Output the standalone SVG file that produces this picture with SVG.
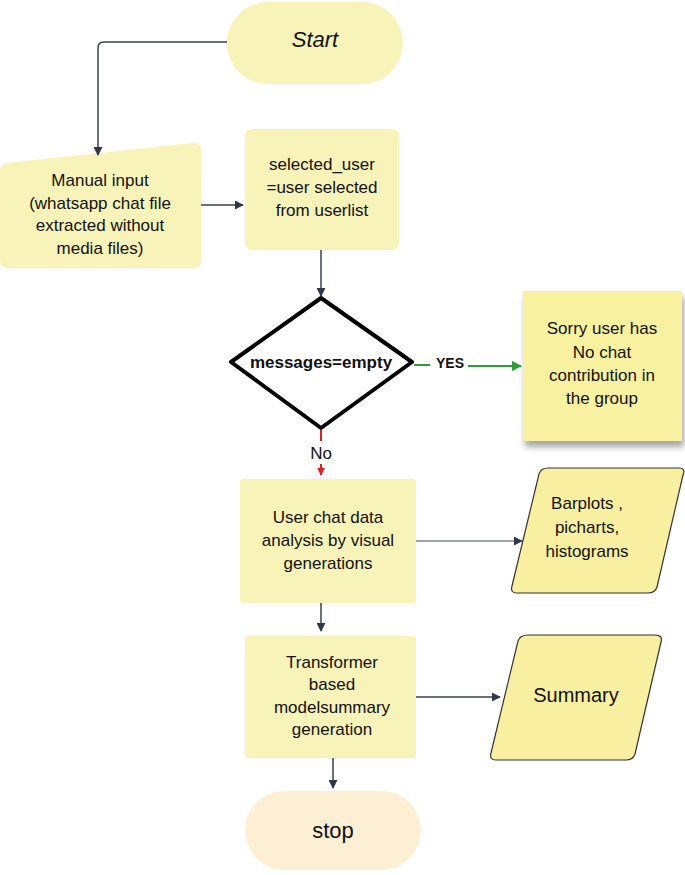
<svg xmlns="http://www.w3.org/2000/svg" width="685" height="875" viewBox="0 0 685 875">
<style>
text{font-family:"Liberation Sans",Arial,sans-serif;fill:#111;text-anchor:middle;font-size:17px}
.box{fill:#f8f3b8}
.c{fill:none;stroke:#3a4250;stroke-width:1.5}
</style>
<defs>
<marker id="a" viewBox="0 0 10 10" refX="9" refY="5" markerWidth="9" markerHeight="9" markerUnits="userSpaceOnUse" orient="auto"><path d="M0,0L10,5L0,10z" fill="#2f3846"/></marker>
<marker id="ag" viewBox="0 0 10 10" refX="9" refY="5" markerWidth="10" markerHeight="10" markerUnits="userSpaceOnUse" orient="auto"><path d="M0,0L10,5L0,10z" fill="#2e9a3c"/></marker>
<marker id="ar" viewBox="0 0 10 10" refX="9" refY="5" markerWidth="8" markerHeight="8" markerUnits="userSpaceOnUse" orient="auto"><path d="M0,0L10,5L0,10z" fill="#e02020"/></marker>
<filter id="sh" x="-10%" y="-10%" width="130%" height="130%"><feDropShadow dx="2" dy="6" stdDeviation="3" flood-color="#000" flood-opacity="0.35"/></filter>
</defs>
<g id="start"><rect x="227" y="2" width="176" height="82" rx="41" class="box"/><text x="315" y="47" font-style="italic" style="font-size:22px">Start</text></g>
<g id="manual"><path d="M6,163 L193,143 Q201,142 201,150 L201,261 Q201,268 194,268 L7,268 Q0,268 0,261 L0,170 Q0,164 6,163z" class="box"/>
<text x="100" y="186">Manual input</text><text x="100" y="209">(whatsapp chat  file</text><text x="100" y="231">extracted without</text><text x="100" y="254">media files)</text></g>
<g id="selected"><rect x="245" y="129" width="154" height="121" rx="7" class="box"/>
<text x="322" y="170">selected_user</text><text x="322" y="193">=user selected</text><text x="322" y="216">from userlist</text></g>
<g id="decision"><path d="M321,298 L412,362 L321,428 L231,362z" fill="#fff" stroke="#000" stroke-width="4" stroke-linejoin="round"/>
<text x="321" y="368" font-weight="bold" fill="#222">messages=empty</text></g>
<g id="sorry"><rect x="523" y="291" width="159" height="150" fill="#f8f2a0" filter="url(#sh)"/>
<text x="602" y="334">Sorry user has</text><text x="602" y="358">No  chat</text><text x="602" y="381">contribution in</text><text x="602" y="404">the group</text></g>
<g id="analysis"><rect x="240" y="479" width="176" height="124" rx="3" class="box"/>
<text x="328" y="523">User chat data</text><text x="328" y="546">analysis by visual</text><text x="328" y="569">generations</text></g>
<g id="barplots"><path d="M548,468 L679,468 Q686,468 683,475 L657,587 Q655,593 648,593 L517,593 Q510,593 512,586 L539,474 Q541,468 548,468z" fill="#f8f0a0" stroke="#333" stroke-width="1.2"/>
<text x="587" y="509">Barplots ,</text><text x="587" y="533">picharts,</text><text x="587" y="557">histograms</text></g>
<g id="transformer"><rect x="245" y="636" width="171" height="122" rx="3" class="box"/>
<text x="332" y="668">Transformer</text><text x="332" y="690">based</text><text x="332" y="713">modelsummary</text><text x="332" y="735">generation</text></g>
<g id="summary"><path d="M528,635 L655,635 Q663,635 661,642 L635,754 Q633,760 626,760 L496,760 Q489,760 491,753 L518,641 Q520,635 528,635z" fill="#f8f0a0" stroke="#333" stroke-width="1.2"/>
<text x="576" y="702" style="font-size:20px">Summary</text></g>
<g id="stop"><rect x="245" y="791" width="176" height="79" rx="39.5" fill="#fcefd3"/><text x="333" y="838" style="font-size:22px">stop</text></g>
<g id="connectors">
<path class="c" d="M227,42 L104,42 Q98,42 98,48 L98,155" marker-end="url(#a)"/>
<path class="c" d="M201,205 L243,205" marker-end="url(#a)"/>
<path class="c" d="M321,250 L321,296" marker-end="url(#a)"/>
<path d="M414,365 L430,365 M468,366 L521,366" fill="none" stroke="#2e9a3c" stroke-width="2" marker-end="url(#ag)"/>
<text x="450" y="368" font-weight="bold" style="font-size:14px" fill="#333">YES</text>
<path d="M321,430 L321,441 M321,464 L321,475" fill="none" stroke="#e02020" stroke-width="2" marker-end="url(#ar)"/>
<text x="321" y="459" fill="#333">No</text>
<path d="M416,541 L522,541" fill="none" stroke="#3a4250" stroke-width="1" marker-end="url(#a)"/>
<path class="c" d="M321,603 L321,631" marker-end="url(#a)"/>
<path class="c" d="M416,697 L500,697" marker-end="url(#a)"/>
<path class="c" d="M333,758 L333,788" marker-end="url(#a)"/>
</g>
</svg>
